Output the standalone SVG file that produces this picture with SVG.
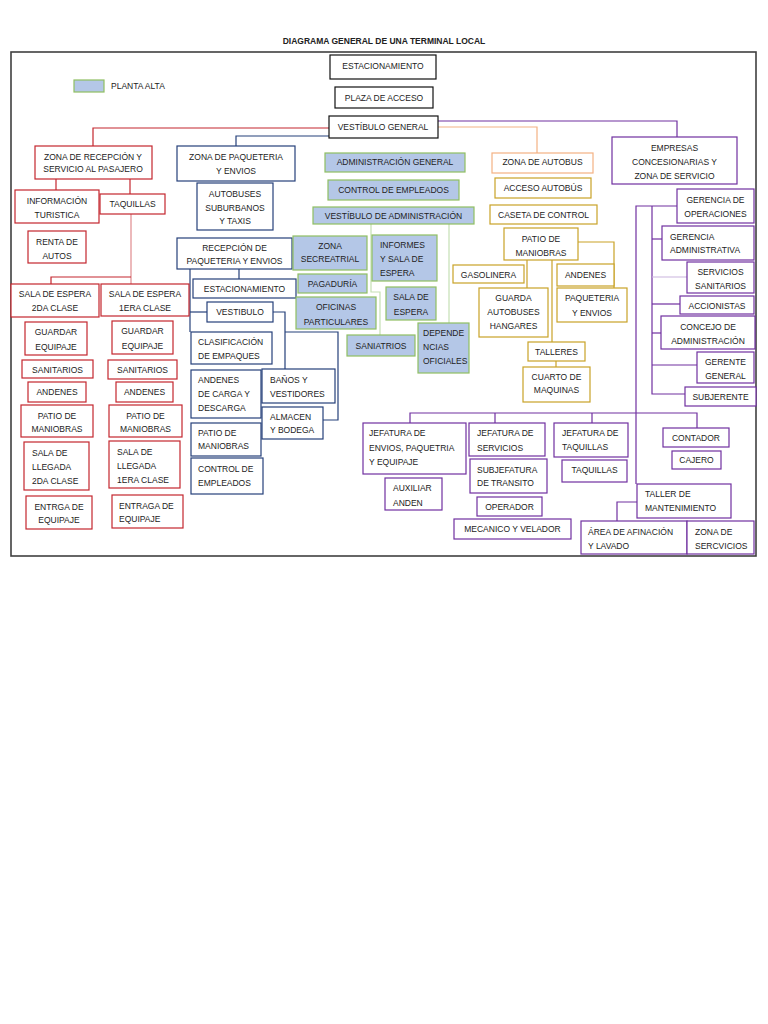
<svg xmlns="http://www.w3.org/2000/svg" width="768" height="1024" viewBox="0 0 768 1024">
<style>
text{font-family:"Liberation Sans",Arial,sans-serif;font-size:8.5px;fill:#222;}
.c{text-anchor:middle;}
.title{font-weight:bold;font-size:8.5px;}
rect{fill:#fff;stroke-width:1.2;}
.k{stroke:#111;}
.r{stroke:#c4262e;}
.n{stroke:#25407a;}
.g{stroke:#8fbf62;fill:#b4c7e7;}
.y{stroke:#c9a227;}
.p{stroke:#f4b183;}
.v{stroke:#7030a0;}
.frame{fill:none;stroke:#404040;stroke-width:1.6;}
#connectors path{fill:none;stroke-width:1.2;}
.lr{stroke:#c4262e;}
.lrp{stroke:#e08a8e;}
.ln{stroke:#25407a;}
.lg{stroke:#c5e0b4;}
.ly{stroke:#c9a227;}
.lp{stroke:#f4b183;}
.lv{stroke:#7030a0;}
.lvl{stroke:#c9b3dd;}
</style>
<rect x="0" y="0" width="768" height="1024" style="fill:#fff;stroke:none"/>
<text class="c title" x="384" y="44">DIAGRAMA GENERAL DE UNA TERMINAL LOCAL</text>
<rect class="frame" x="11" y="52" width="745" height="504"/>

<g id="legend">
<rect class="g" x="74" y="80" width="30" height="12"/>
<text x="111" y="89">PLANTA ALTA</text>
</g>

<g id="connectors">
<path class="lr" d="M329,128 H93 V146"/>
<path class="lr" d="M56,179 V190"/>
<path class="lr" d="M130,179 V194"/>
<path class="lrp" d="M131,214 V284"/>
<path class="lr" d="M131,277 H51 V284"/>
<path class="ln" d="M329,136 H236 V146"/>
<path class="ln" d="M239,269 V279"/>
<path class="ln" d="M190,269 V332"/>
<path class="ln" d="M190,312 H207"/>
<path class="ln" d="M273,312 H285 V369"/>
<path class="ln" d="M285,332 H338 V420 H323"/>
<path class="lg" d="M371,224 V292 H380 V335"/>
<path class="lg" d="M449,224 V323"/>
<path class="lp" d="M438,127 H537 V153"/>
<path class="lv" d="M438,121 H677 V137"/>
<path class="ly" d="M578,242 H614 V288"/>
<path class="ly" d="M527,260 V288"/>
<path class="ly" d="M552,260 V342"/>
<path class="ly" d="M556,361 V367"/>
<path class="lv" d="M677,206 H636 V484"/>
<path class="lv" d="M652,206 V394 H685"/>
<path class="lv" d="M652,239 H662"/>
<path class="lvl" d="M652,277 H687"/>
<path class="lv" d="M652,304 H680"/>
<path class="lv" d="M652,333 H661"/>
<path class="lv" d="M652,365 H697"/>
<path class="lv" d="M410,423 V413 H697 V428"/>
<path class="lv" d="M495,413 V423"/>
<path class="lv" d="M592,413 V423"/>
<path class="lv" d="M637,502 H617 V521"/>
</g>

<g id="estacionamiento"><rect class="k" x="330" y="55" width="106" height="24"/><text class="c" x="383" y="69">ESTACIONAMIENTO</text></g>
<g id="plaza-acceso"><rect class="k" x="335" y="87" width="98" height="21"/><text class="c" x="384" y="101">PLAZA DE ACCESO</text></g>
<g id="vestibulo-general"><rect class="k" x="329" y="116" width="109" height="22"/><text class="c" x="383" y="130">VESTÍBULO GENERAL</text></g>

<g id="zona-recepcion"><rect class="r" x="35" y="146" width="117" height="33"/><text class="c" x="93" y="160">ZONA DE RECEPCIÓN Y</text><text class="c" x="93" y="172">SERVICIO AL PASAJERO</text></g>
<g id="info-turistica"><rect class="r" x="15" y="190" width="84" height="33"/><text class="c" x="57" y="204">INFORMACIÓN</text><text class="c" x="57" y="218">TURISTICA</text></g>
<g id="taquillas-r"><rect class="r" x="100" y="194" width="65" height="20"/><text class="c" x="132.5" y="207">TAQUILLAS</text></g>
<g id="renta-autos"><rect class="r" x="28" y="231" width="58" height="32"/><text class="c" x="57" y="245">RENTA DE</text><text class="c" x="57" y="259">AUTOS</text></g>
<g id="sala-espera-2"><rect class="r" x="11" y="284" width="88" height="33"/><text class="c" x="55" y="297">SALA DE ESPERA</text><text class="c" x="55" y="311">2DA CLASE</text></g>
<g id="sala-espera-1"><rect class="r" x="101" y="284" width="88" height="32"/><text class="c" x="145" y="297">SALA DE ESPERA</text><text class="c" x="145" y="311">1ERA CLASE</text></g>
<g id="guardar-2"><rect class="r" x="25" y="322" width="62" height="33"/><text class="c" x="56" y="335">GUARDAR</text><text class="c" x="56" y="350">EQUIPAJE</text></g>
<g id="guardar-1"><rect class="r" x="112" y="321" width="61" height="33"/><text class="c" x="142.5" y="334">GUARDAR</text><text class="c" x="142.5" y="349">EQUIPAJE</text></g>
<g id="sanitarios-2"><rect class="r" x="22" y="360" width="71" height="18"/><text class="c" x="57.5" y="373">SANITARIOS</text></g>
<g id="sanitarios-1"><rect class="r" x="108" y="360" width="69" height="19"/><text class="c" x="142.5" y="373">SANITARIOS</text></g>
<g id="andenes-2"><rect class="r" x="28" y="382" width="58" height="20"/><text class="c" x="57" y="395">ANDENES</text></g>
<g id="andenes-1"><rect class="r" x="116" y="382" width="57" height="20"/><text class="c" x="144.5" y="395">ANDENES</text></g>
<g id="patio-2"><rect class="r" x="21" y="405" width="72" height="32"/><text class="c" x="57" y="419">PATIO DE</text><text class="c" x="57" y="432">MANIOBRAS</text></g>
<g id="patio-1"><rect class="r" x="109" y="405" width="73" height="32"/><text class="c" x="145.5" y="419">PATIO DE</text><text class="c" x="145.5" y="432">MANIOBRAS</text></g>
<g id="sala-llegada-2"><rect class="r" x="24" y="442" width="65" height="48"/><text x="32" y="456">SALA DE</text><text x="32" y="470">LLEGADA</text><text x="32" y="484">2DA CLASE</text></g>
<g id="sala-llegada-1"><rect class="r" x="109" y="441" width="71" height="47"/><text x="117" y="455">SALA DE</text><text x="117" y="469">LLEGADA</text><text x="117" y="483">1ERA CLASE</text></g>
<g id="entrega-2"><rect class="r" x="26" y="496" width="66" height="33"/><text class="c" x="59" y="510">ENTRGA DE</text><text class="c" x="59" y="523">EQUIPAJE</text></g>
<g id="entrega-1"><rect class="r" x="112" y="495" width="71" height="33"/><text x="119" y="509">ENTRAGA DE</text><text x="119" y="522">EQUIPAJE</text></g>

<g id="zona-paqueteria"><rect class="n" x="177" y="146" width="118" height="35"/><text class="c" x="236" y="160">ZONA DE PAQUETERIA</text><text class="c" x="236" y="174">Y ENVIOS</text></g>
<g id="autobuses-suburbanos"><rect class="n" x="197" y="183" width="76" height="47"/><text class="c" x="235" y="197">AUTOBUSES</text><text class="c" x="235" y="211">SUBURBANOS</text><text class="c" x="235" y="224">Y TAXIS</text></g>
<g id="recepcion-paqueteria"><rect class="n" x="177" y="238" width="115" height="31"/><text class="c" x="234.5" y="251">RECEPCIÓN DE</text><text class="c" x="234.5" y="264">PAQUETERIA Y ENVIOS</text></g>
<g id="estacionamiento-n"><rect class="n" x="193" y="279" width="103" height="19"/><text class="c" x="244.5" y="292">ESTACIONAMIENTO</text></g>
<g id="vestibulo-n"><rect class="n" x="207" y="302" width="66" height="20"/><text class="c" x="240" y="315">VESTIBULO</text></g>
<g id="clasificacion"><rect class="n" x="191" y="332" width="81" height="32"/><text x="198" y="345">CLASIFICACIÓN</text><text x="198" y="359">DE EMPAQUES</text></g>
<g id="andenes-carga"><rect class="n" x="191" y="370" width="70" height="48"/><text x="198" y="383">ANDENES</text><text x="198" y="397">DE CARGA Y</text><text x="198" y="411">DESCARGA</text></g>
<g id="banos"><rect class="n" x="262" y="369" width="73" height="34"/><text x="270" y="383">BAÑOS Y</text><text x="270" y="397">VESTIDORES</text></g>
<g id="almacen"><rect class="n" x="262" y="407" width="61" height="32"/><text x="270" y="420">ALMACEN</text><text x="270" y="433">Y BODEGA</text></g>
<g id="patio-n"><rect class="n" x="191" y="423" width="70" height="33"/><text x="198" y="436">PATIO DE</text><text x="198" y="449">MANIOBRAS</text></g>
<g id="control-n"><rect class="n" x="191" y="458" width="72" height="36"/><text x="198" y="472">CONTROL DE</text><text x="198" y="486">EMPLEADOS</text></g>

<g id="admin-general"><rect class="g" x="325" y="153" width="140" height="19"/><text class="c" x="395" y="165">ADMINISTRACIÓN GENERAL</text></g>
<g id="control-empleados"><rect class="g" x="328" y="180" width="131" height="20"/><text class="c" x="393.5" y="193">CONTROL DE EMPLEADOS</text></g>
<g id="vestibulo-admin"><rect class="g" x="313" y="207" width="161" height="17"/><text class="c" x="393.5" y="219">VESTÍBULO DE ADMINISTRACIÓN</text></g>
<g id="zona-secretarial"><rect class="g" x="293" y="236" width="74" height="34"/><text class="c" x="330" y="249">ZONA</text><text class="c" x="330" y="262">SECREATRIAL</text></g>
<g id="informes"><rect class="g" x="372" y="235" width="65" height="46"/><text x="380" y="248">INFORMES</text><text x="380" y="262">Y SALA DE</text><text x="380" y="276">ESPERA</text></g>
<g id="pagaduria"><rect class="g" x="298" y="274" width="69" height="19"/><text class="c" x="332.5" y="287">PAGADURÍA</text></g>
<g id="sala-espera-g"><rect class="g" x="386" y="287" width="50" height="33"/><text class="c" x="411" y="300">SALA DE</text><text class="c" x="411" y="315">ESPERA</text></g>
<g id="oficinas"><rect class="g" x="296" y="297" width="80" height="32"/><text class="c" x="336" y="310">OFICINAS</text><text class="c" x="336" y="325">PARTICULARES</text></g>
<g id="saniatrios"><rect class="g" x="347" y="335" width="68" height="21"/><text class="c" x="381" y="349">SANIATRIOS</text></g>
<g id="dependencias"><rect class="g" x="418" y="323" width="51" height="50"/><text x="423" y="336">DEPENDE</text><text x="423" y="350">NCIAS</text><text x="423" y="364">OFICIALES</text></g>

<g id="zona-autobus"><rect class="p" x="492" y="153" width="101" height="20"/><text class="c" x="542.5" y="165">ZONA DE AUTOBUS</text></g>
<g id="acceso-autobus"><rect class="y" x="495" y="178" width="96" height="20"/><text class="c" x="543" y="191">ACCESO AUTOBÚS</text></g>
<g id="caseta"><rect class="y" x="490" y="205" width="107" height="19"/><text class="c" x="543.5" y="218">CASETA DE CONTROL</text></g>
<g id="patio-y"><rect class="y" x="504" y="228" width="74" height="32"/><text class="c" x="541" y="242">PATIO DE</text><text class="c" x="541" y="256">MANIOBRAS</text></g>
<g id="gasolinera"><rect class="y" x="453" y="265" width="71" height="18"/><text class="c" x="488.5" y="278">GASOLINERA</text></g>
<g id="andenes-y"><rect class="y" x="557" y="264" width="57" height="22"/><text class="c" x="585.5" y="278">ANDENES</text></g>
<g id="guarda"><rect class="y" x="479" y="288" width="69" height="49"/><text class="c" x="513.5" y="301">GUARDA</text><text class="c" x="513.5" y="315">AUTOBUSES</text><text class="c" x="513.5" y="329">HANGARES</text></g>
<g id="paqueteria-y"><rect class="y" x="557" y="288" width="70" height="34"/><text class="c" x="592" y="301">PAQUETERIA</text><text class="c" x="592" y="316">Y ENVIOS</text></g>
<g id="talleres"><rect class="y" x="528" y="342" width="57" height="19"/><text class="c" x="556.5" y="355">TALLERES</text></g>
<g id="cuarto"><rect class="y" x="523" y="367" width="67" height="35"/><text class="c" x="556.5" y="380">CUARTO DE</text><text class="c" x="556.5" y="393">MAQUINAS</text></g>

<g id="empresas"><rect class="v" x="612" y="137" width="125" height="47"/><text class="c" x="674.5" y="151">EMPRESAS</text><text class="c" x="674.5" y="165">CONCESIONARIAS Y</text><text class="c" x="674.5" y="179">ZONA DE SERVICIO</text></g>
<g id="gerencia-op"><rect class="v" x="677" y="189" width="77" height="34"/><text class="c" x="715.5" y="203">GERENCIA DE</text><text class="c" x="715.5" y="217">OPERACIONES</text></g>
<g id="gerencia-adm"><rect class="v" x="662" y="226" width="92" height="34"/><text x="670" y="240">GERENCIA</text><text x="670" y="253">ADMINISTRATIVA</text></g>
<g id="servicios-sanitarios"><rect class="v" x="687" y="262" width="67" height="31"/><text class="c" x="720.5" y="275">SERVICIOS</text><text class="c" x="720.5" y="289">SANITARIOS</text></g>
<g id="accionistas"><rect class="v" x="680" y="296" width="74" height="18"/><text class="c" x="717" y="309">ACCIONISTAS</text></g>
<g id="concejo"><rect class="v" x="661" y="316" width="94" height="33"/><text class="c" x="708" y="330">CONCEJO DE</text><text class="c" x="708" y="344">ADMINISTRACIÓN</text></g>
<g id="gerente-general"><rect class="v" x="697" y="352" width="57" height="31"/><text class="c" x="725.5" y="365">GERENTE</text><text class="c" x="725.5" y="379">GENERAL</text></g>
<g id="subjerente"><rect class="v" x="685" y="387" width="71" height="19"/><text class="c" x="720.5" y="400">SUBJERENTE</text></g>
<g id="jefatura-envios"><rect class="v" x="363" y="423" width="103" height="51"/><text x="369" y="436">JEFATURA DE</text><text x="369" y="451">ENVIOS, PAQUETRIA</text><text x="369" y="465">Y EQUIPAJE</text></g>
<g id="jefatura-servicios"><rect class="v" x="469" y="423" width="76" height="33"/><text x="477" y="436">JEFATURA DE</text><text x="477" y="451">SERVICIOS</text></g>
<g id="jefatura-taquillas"><rect class="v" x="554" y="423" width="74" height="34"/><text x="562" y="436">JEFATURA DE</text><text x="562" y="450">TAQUILLAS</text></g>
<g id="contador"><rect class="v" x="663" y="428" width="66" height="19"/><text class="c" x="696" y="441">CONTADOR</text></g>
<g id="cajero"><rect class="v" x="672" y="451" width="49" height="18"/><text class="c" x="696.5" y="463">CAJERO</text></g>
<g id="subjefatura"><rect class="v" x="470" y="459" width="77" height="34"/><text x="477" y="473">SUBJEFATURA</text><text x="477" y="486">DE TRANSITO</text></g>
<g id="taquillas-v"><rect class="v" x="562" y="460" width="65" height="22"/><text class="c" x="594.5" y="473">TAQUILLAS</text></g>
<g id="auxiliar"><rect class="v" x="385" y="478" width="57" height="32"/><text x="393" y="491">AUXILIAR</text><text x="393" y="506">ANDEN</text></g>
<g id="operador"><rect class="v" x="477" y="497" width="65" height="19"/><text class="c" x="509.5" y="510">OPERADOR</text></g>
<g id="mecanico"><rect class="v" x="454" y="519" width="117" height="20"/><text class="c" x="512.5" y="532">MECANICO Y VELADOR</text></g>
<g id="taller"><rect class="v" x="637" y="484" width="94" height="34"/><text x="645" y="497">TALLER DE</text><text x="645" y="511">MANTENIMIENTO</text></g>
<g id="area-afinacion"><rect class="v" x="581" y="521" width="106" height="33"/><text x="588" y="535">ÁREA DE AFINACIÓN</text><text x="588" y="549">Y LAVADO</text></g>
<g id="zona-servicios"><rect class="v" x="687" y="521" width="67" height="33"/><text x="695" y="535">ZONA DE</text><text x="695" y="549">SERCVICIOS</text></g>
</svg>
